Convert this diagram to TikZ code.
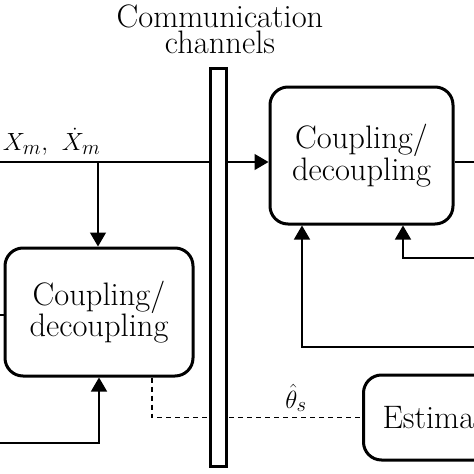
\documentclass[tikz,border=0pt]{standalone}
\usetikzlibrary{arrows.meta}
\begin{document}
\begin{tikzpicture}[x=1pt,y=-1pt,
  big/.style={font=\fontsize{32.5}{30}\selectfont},
  blk/.style={draw, line width=3pt, rounded corners=18pt, align=center, big, inner sep=0pt},
  wire/.style={line width=1.3pt},
  arr/.style={wire, -{Triangle[length=14pt,width=16pt]}},
  dsh/.style={wire, dash pattern=on 5pt off 4pt}]
\useasboundingbox (0,0) rectangle (474,474);
\clip (0,0) rectangle (474,474);
\fill[white] (0,0) rectangle (474,474);
% blocks
\node[blk, minimum width=183pt, minimum height=137pt] (top) at (361.5,155.5) {Coupling/\\decoupling};
\node[blk, minimum width=188pt, minimum height=128pt] (left) at (99,312) {Coupling/\\decoupling};
\node[blk, anchor=west, minimum height=85pt, inner xsep=19pt, align=left] (est) at (362,417.5) {Estimator};
\node[font=\fontsize{32.5}{26}\selectfont, align=center] (title) at (220,29) {Communication\\channels};
% coordinates
\coordinate (inL) at (0,162);
\coordinate (outR) at (474,162);
\coordinate (br) at (98,162);
\coordinate (inLL) at (0,315);
\coordinate (inB) at (0,443);
\coordinate (dsx) at (152,0);
\coordinate (r1) at (474,347);
\coordinate (r2) at (474,258);
\coordinate (a1x) at (302,0);
\coordinate (a2x) at (403,0);
% connectors
\draw[arr] (inL) -- (inL -| top.west);
\draw[wire] (outR -| top.east) -- (outR);
\draw[arr] (br) -- (br |- left.north);
\draw[wire] (inLL) -- (inLL -| left.west);
\draw[arr] (inB) -| (left.south);
\draw[dsh] (left.south -| dsx) |- (est.west);
\draw[arr] (r1) -| (top.south -| a1x);
\draw[arr] (r2) -| (top.south -| a2x);
% labels
\node[big, anchor=east] (xm) at (104,142) {$X_m,\ \dot{X}_m$};
\node[big] (th) at (296,398) {$\hat{\theta}_s$};
% channel bar
\node[draw, fill=white, line width=3pt, minimum width=16pt, minimum height=398pt, inner sep=0pt] (chan) at (218,267) {};
\end{tikzpicture}
\end{document}
